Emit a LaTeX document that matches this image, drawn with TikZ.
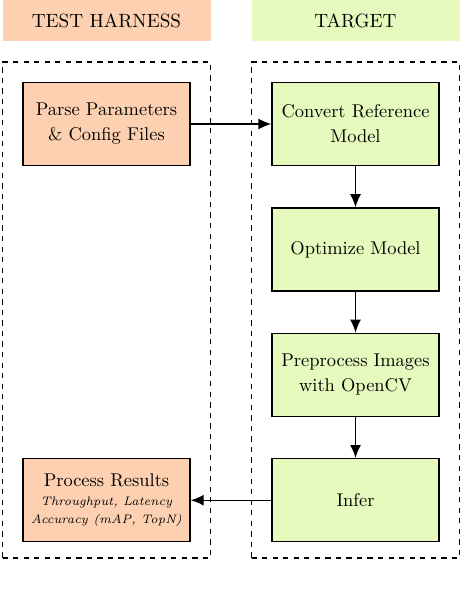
\documentclass[tikz,border=0pt]{standalone}
\usetikzlibrary{arrows.meta, positioning}

\definecolor{harness}{RGB}{252,208,176}
\definecolor{target}{RGB}{230,250,190}

\begin{document}
\begin{tikzpicture}[
  header/.style = {minimum width = 4.16cm, minimum height = 0.82cm, inner sep = 0pt, font = \fontsize{10.9}{13}\selectfont},
  lane/.style = {draw, dashed, semithick, minimum width = 4.16cm, minimum height = 9.92cm, inner sep = 0pt},
  stage/.style = {draw, thick, minimum width = 3.34cm, minimum height = 1.66cm, align = center, inner sep = 2pt, font = \fontsize{10.5}{14.2}\selectfont},
  flow/.style = {-{Latex[length = 2.6mm, width = 2.2mm]}, thick}
]
\useasboundingbox (0, 0) rectangle (9.48, -11.78);

\node[header, fill = harness] (harnesshead) at (2.13, -0.41) {TEST HARNESS};
\node[header, fill = target] (targethead) at (7.11, -0.41) {TARGET};

\node[lane] (harnesslane) at (2.13, -6.2) {};
\node[lane] (targetlane) at (7.11, -6.2) {};

\node[stage, fill = harness] (parse) at (2.13, -2.48) {Parse Parameters\\\& Config Files};
\node[stage, fill = target] (convert) at (7.11, -2.48) {Convert Reference\\Model};
\node[stage, fill = target, below = 0.82cm of convert] (optimize) {Optimize Model};
\node[stage, fill = target, below = 0.82cm of optimize] (preprocess) {Preprocess Images\\with OpenCV};
\node[stage, fill = target, below = 0.82cm of preprocess] (infer) {Infer};
\node[stage, fill = harness] (results) at (infer -| parse) {Process Results\\[-3pt]
  {\scriptsize\itshape Throughput, Latency}\\[-4pt]
  {\scriptsize\itshape Accuracy (mAP, TopN)}};

\draw[flow] (parse) -- (convert);
\draw[flow] (convert) -- (optimize);
\draw[flow] (optimize) -- (preprocess);
\draw[flow] (preprocess) -- (infer);
\draw[flow] (infer) -- (results);
\end{tikzpicture}
\end{document}
